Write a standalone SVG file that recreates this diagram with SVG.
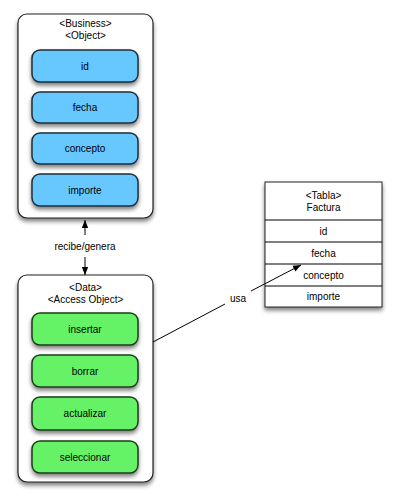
<svg xmlns="http://www.w3.org/2000/svg" width="400" height="503" viewBox="0 0 400 503">
<defs>
<filter id="sh" x="-20%" y="-20%" width="140%" height="140%">
<feGaussianBlur in="SourceAlpha" stdDeviation="2"/>
<feOffset dx="0" dy="3" result="b"/>
<feComponentTransfer><feFuncA type="linear" slope="0.5"/></feComponentTransfer>
<feMerge><feMergeNode/><feMergeNode in="SourceGraphic"/></feMerge>
</filter>
<marker id="ah" viewBox="0 0 10 10" refX="10" refY="5" markerWidth="8" markerHeight="8" orient="auto-start-reverse" markerUnits="userSpaceOnUse">
<path d="M0,1 L10,5 L0,9 Z" fill="#000"/>
</marker>
</defs>
<style>
text{font-family:"Liberation Sans",Arial,sans-serif;font-size:10px;fill:#000;text-anchor:middle}
.outer{fill:#fff;stroke:#222;stroke-width:1.2}
.blue{fill:#66C8FF;stroke:#1e2e38;stroke-width:1.5}
.green{fill:#66F266;stroke:#1e3a1e;stroke-width:1.5}
.tbl{fill:#fff;stroke:#222;stroke-width:1}
.ln{stroke:#000;stroke-width:1;fill:none}
</style>
<rect width="400" height="503" fill="#fff"/>
<g id="business-object">
<rect class="outer" x="18" y="14" width="135" height="204" rx="9" filter="url(#sh)"/>
<text x="85.5" y="27">&lt;Business&gt;</text>
<text x="85.5" y="39">&lt;Object&gt;</text>
<g id="bo-id"><rect class="blue" x="32" y="50" width="106" height="32" rx="8" filter="url(#sh)"/><text x="85" y="70">id</text></g>
<g id="bo-fecha"><rect class="blue" x="32" y="92" width="106" height="31" rx="8" filter="url(#sh)"/><text x="85" y="111">fecha</text></g>
<g id="bo-concepto"><rect class="blue" x="32" y="133" width="106" height="31" rx="8" filter="url(#sh)"/><text x="85" y="152">concepto</text></g>
<g id="bo-importe"><rect class="blue" x="32" y="174" width="106" height="32" rx="8" filter="url(#sh)"/><text x="85" y="194">importe</text></g>
</g>
<g id="data-access-object">
<rect class="outer" x="18" y="275" width="135" height="207" rx="9" filter="url(#sh)"/>
<text x="85.5" y="291">&lt;Data&gt;</text>
<text x="85.5" y="303">&lt;Access Object&gt;</text>
<g id="dao-insertar"><rect class="green" x="32" y="313" width="106" height="32" rx="8" filter="url(#sh)"/><text x="85" y="333">insertar</text></g>
<g id="dao-borrar"><rect class="green" x="32" y="355" width="106" height="32" rx="8" filter="url(#sh)"/><text x="85" y="375">borrar</text></g>
<g id="dao-actualizar"><rect class="green" x="32" y="397" width="106" height="33" rx="8" filter="url(#sh)"/><text x="85" y="417">actualizar</text></g>
<g id="dao-seleccionar"><rect class="green" x="32" y="441" width="106" height="32" rx="8" filter="url(#sh)"/><text x="85" y="461">seleccionar</text></g>
</g>
<g id="tabla-factura">
<rect class="tbl" x="265" y="182" width="117" height="125" filter="url(#sh)"/>
<line class="ln" x1="265" y1="220" x2="382" y2="220"/>
<line class="ln" x1="265" y1="242" x2="382" y2="242"/>
<line class="ln" x1="265" y1="264" x2="382" y2="264"/>
<line class="ln" x1="265" y1="286" x2="382" y2="286"/>
<text x="323.5" y="199">&lt;Tabla&gt;</text>
<text x="323.5" y="211">Factura</text>
<text x="323.5" y="235">id</text>
<text x="323.5" y="257">fecha</text>
<text x="323.5" y="279">concepto</text>
<text x="323.5" y="300">importe</text>
</g>
<g id="connectors">
<line class="ln" x1="85" y1="235" x2="85" y2="220" marker-end="url(#ah)"/>
<line class="ln" x1="85" y1="257" x2="85" y2="275" marker-end="url(#ah)"/>
<text x="85" y="250">recibe/genera</text>
<line class="ln" x1="153" y1="342" x2="225" y2="304"/>
<line class="ln" x1="251" y1="291" x2="301" y2="265" marker-end="url(#ah)"/>
<text x="238" y="302">usa</text>
</g>
</svg>
